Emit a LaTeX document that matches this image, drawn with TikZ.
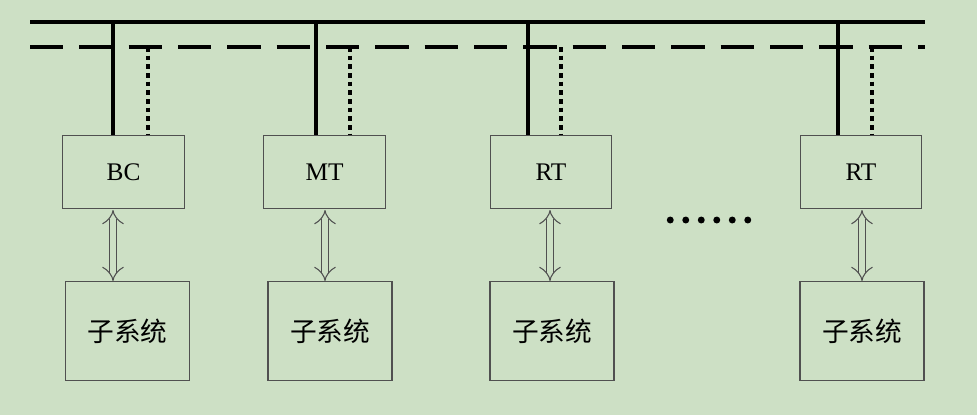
\documentclass[tikz,border=0pt]{standalone}
\usepackage{fontspec}
\setmainfont{Liberation Serif}
\newfontfamily\cjk{Noto Sans CJK SC}
\usetikzlibrary{arrows.meta}
\definecolor{bg}{HTML}{CDE0C5}
\definecolor{bx}{HTML}{505050}
\begin{document}
\begin{tikzpicture}[x=0.75pt,y=-0.75pt,
  unit/.style={draw=bx,line width=0.9pt,minimum width=91pt,minimum height=55pt,inner sep=0pt,font=\fontsize{19}{22}\selectfont},
  sub/.style={draw=bx,line width=0.9pt,minimum width=93pt,minimum height=74pt,inner sep=0pt,font=\cjk\fontsize{20}{24}\selectfont},
  bus/.style={line width=2.4pt},
  dbus/.style={line width=2.6pt,dash pattern=on 25pt off 12pt},
  dotl/.style={line width=2.6pt,dash pattern=on 3.5pt off 3pt},
  link/.style={draw=bx,double=bg,line width=0.8pt,double distance=5pt,{Implies[scale=1.5]}-{Implies[scale=1.5]}}]
\fill[bg] (0,0) rectangle (977,415);
\useasboundingbox (0,0) rectangle (977,415);
\coordinate (b1) at (30,22); \coordinate (b2) at (925,22);
\coordinate (d1) at (30,47); \coordinate (d2) at (925,47);
\draw[bus] (b1) -- (b2);
\draw[dbus] (d1) -- (d2);
\foreach \n/\lab/\x/\sx/\sl/\dl/\ax in {a/BC/123.5/127.5/113/148/113, b/MT/324.5/330/316/350/325, c/RT/551/552/528/561/550, d/RT/861/862/838/872/862}{
  \node[unit] (u\n) at (\x,172) {\lab};
  \node[sub] (s\n) at (\sx,331) {子系统};
  \coordinate (t\n) at (\sl,22);
  \coordinate (q\n) at (\dl,47);
  \draw[bus] (t\n) -- (t\n |- u\n.north);
  \draw[dotl] (q\n) -- (q\n |- u\n.north);
  \coordinate (ua\n) at (\ax,210);
  \coordinate (sa\n) at (\ax,281);
  \draw[link] (ua\n) -- (sa\n);
}
\node[inner sep=0pt] (dots) at (709,220) {};
\foreach \i in {0,...,5}{\fill ([xshift={(\i-2.5)*15.5*0.75pt}]dots) circle (2.6pt);}
\end{tikzpicture}
\end{document}
